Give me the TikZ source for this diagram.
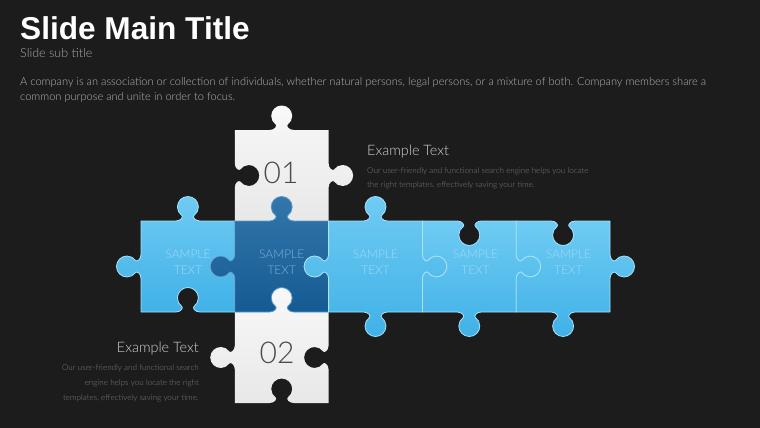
\documentclass[tikz,border=0pt]{standalone}
\usepackage{fontspec}
\setmainfont{Lato}[UprightFont={* Light}]
\newfontfamily\titlefont{Liberation Sans}
\definecolor{bg}{HTML}{1C1C1C}
\definecolor{lbTop}{HTML}{6FCBF3}
\definecolor{lbBot}{HTML}{40B1E7}
\definecolor{lbLine}{HTML}{A9E2FA}
\definecolor{dbTop}{HTML}{3276AA}
\definecolor{dbBot}{HTML}{155B93}
\definecolor{dbLine}{HTML}{5A9CCB}
\definecolor{wTop}{HTML}{F8F8F8}
\definecolor{wBot}{HTML}{E8E8E8}
\definecolor{lbText}{HTML}{A2DAF5}
\definecolor{dbText}{HTML}{7DB0D9}
\definecolor{numText}{HTML}{4A4A4A}
\definecolor{subText}{HTML}{A8A8A8}
\definecolor{paraText}{HTML}{B4B4B4}
\definecolor{headText}{HTML}{D2D2D2}
\definecolor{descText}{HTML}{7A7A7A}

% one tab (knob or hole) on an edge: centre (#1,#2), direction (#3,#4), signed normal (#5,#6)
\newcommand\ptab[6]{%
 -- ({(#1)-12*(#3)},{(#2)-12*(#4)})
 .. controls ({(#1)-7*(#3)},{(#2)-7*(#4)}) and ({(#1)-4.4*(#3)+4.25*(#5)},{(#2)-4.4*(#4)+4.25*(#6)})
 .. ({(#1)-6*(#3)+5.4*(#5)},{(#2)-6*(#4)+5.4*(#6)})
 .. controls ({(#1)-8.8*(#3)+7.4*(#5)},{(#2)-8.8*(#4)+7.4*(#6)}) and ({(#1)-10.5*(#3)+10.6*(#5)},{(#2)-10.5*(#4)+10.6*(#6)})
 .. ({(#1)-10.5*(#3)+14*(#5)},{(#2)-10.5*(#4)+14*(#6)})
 .. controls ({(#1)-10.5*(#3)+19.8*(#5)},{(#2)-10.5*(#4)+19.8*(#6)}) and ({(#1)-5.8*(#3)+24.5*(#5)},{(#2)-5.8*(#4)+24.5*(#6)})
 .. ({(#1)+24.5*(#5)},{(#2)+24.5*(#6)})
 .. controls ({(#1)+5.8*(#3)+24.5*(#5)},{(#2)+5.8*(#4)+24.5*(#6)}) and ({(#1)+10.5*(#3)+19.8*(#5)},{(#2)+10.5*(#4)+19.8*(#6)})
 .. ({(#1)+10.5*(#3)+14*(#5)},{(#2)+10.5*(#4)+14*(#6)})
 .. controls ({(#1)+10.5*(#3)+10.6*(#5)},{(#2)+10.5*(#4)+10.6*(#6)}) and ({(#1)+8.8*(#3)+7.4*(#5)},{(#2)+8.8*(#4)+7.4*(#6)})
 .. ({(#1)+6*(#3)+5.4*(#5)},{(#2)+6*(#4)+5.4*(#6)})
 .. controls ({(#1)+4.4*(#3)+4.25*(#5)},{(#2)+4.4*(#4)+4.25*(#6)}) and ({(#1)+7*(#3)},{(#2)+7*(#4)})
 .. ({(#1)+12*(#3)},{(#2)+12*(#4)})
}
% piece: x, y, w, h, top, right, bottom, left  (+1 knob, -1 hole)
\newcommand\piece[8]{({#1},{#2})
 \ptab{#1+#3/2}{#2}{1}{0}{0}{-(#5)} -- ({#1+#3},{#2})
 \ptab{#1+#3}{#2+#4/2}{0}{1}{#6}{0} -- ({#1+#3},{#2+#4})
 \ptab{#1+#3/2}{#2+#4}{-1}{0}{0}{#7} -- ({#1},{#2+#4})
 \ptab{#1}{#2+#4/2}{0}{-1}{-(#8)}{0} -- cycle}

\tikzset{
 lightpiece/.style={top color=lbTop, bottom color=lbBot, draw=lbLine, line width=0.8pt, line join=round},
 darkpiece/.style={top color=dbTop, bottom color=dbBot, draw=dbLine, line width=0.8pt, line join=round},
 whitepiece/.style={top color=wTop, bottom color=wBot, draw=none},
 samplelight/.style={align=center, text=lbText, font=\fontsize{12}{16}\selectfont, inner sep=0},
 sampledark/.style={align=center, text=dbText, font=\fontsize{12}{16}\selectfont, inner sep=0},
 numstyle/.style={anchor=base, inner sep=0, text=numText, font=\fontsize{30}{30}\selectfont},
 headstyle/.style={inner sep=0, text=headText, font=\fontsize{14.4}{14.4}\selectfont},
 descstyle/.style={inner sep=0, text=descText, font=\fontsize{8.1}{8.1}\selectfont},
 parastyle/.style={anchor=base west, inner sep=0, text=paraText, font=\fontsize{11.05}{11.05}\selectfont}
}

\begin{document}
\begin{tikzpicture}[x=1pt,y=-1pt]
\useasboundingbox (0,0) rectangle (760,428);
\fill[bg] (0,0) rectangle (760,428);

% titles
\node[anchor=base west, inner sep=0, text=white, font=\titlefont\bfseries\fontsize{31.6}{31.6}\selectfont] (title) at (20,40) {Slide Main Title};
\node[anchor=base west, inner sep=0, text=subText, font=\fontsize{12.5}{12.5}\selectfont] (sub) at (20,58) {Slide sub title};
\node[parastyle] (p1) at (20,85) {A company is an association or collection of individuals, whether natural persons, legal persons, or a mixture of both. Company members share a};
\node[parastyle] (p2) at (20,100) {common purpose and unite in order to focus.};

% white pieces
\path[whitepiece] \piece{234.8}{130}{93.8}{91}{1}{1}{-1}{-1};
\path[whitepiece] \piece{234.8}{312}{93.8}{91}{1}{-1}{-1}{1};

% blue row
\path[lightpiece] \piece{141}{221}{93.8}{91}{1}{-1}{-1}{1};
\path[darkpiece]  \piece{234.8}{221}{93.8}{91}{1}{-1}{-1}{1};
\path[lightpiece] \piece{328.6}{221}{93.8}{91}{1}{1}{1}{1};
\path[lightpiece] \piece{422.4}{221}{93.8}{91}{-1}{1}{1}{-1};
\path[lightpiece] \piece{516.2}{221}{93.8}{91}{-1}{1}{1}{-1};

% piece labels
\node[samplelight] (s1) at (188,262) {SAMPLE\\TEXT};
\node[sampledark]  (s2) at (281.7,262) {SAMPLE\\TEXT};
\node[samplelight] (s3) at (375.5,262) {SAMPLE\\TEXT};
\node[samplelight] (s4) at (475.5,262) {SAMPLE\\TEXT};
\node[samplelight] (s5) at (568.5,262) {SAMPLE\\TEXT};

\node[numstyle] (n1) at (281,183) {01};
\node[numstyle] (n2) at (277,363.5) {02};

% top text block
\node[headstyle, anchor=base west] (h1) at (367,155) {Example Text};
\node[descstyle, anchor=base west] (d11) at (367,173) {Our user-friendly and functional search engine helps you locate};
\node[descstyle, anchor=base west] (d12) at (367,187) {the right templates, effectively saving your time.};

% bottom text block
\node[headstyle, anchor=base east] (h2) at (199,352) {Example Text};
\node[descstyle, anchor=base east] (d21) at (199,370) {Our user-friendly and functional search};
\node[descstyle, anchor=base east] (d22) at (199,385) {engine helps you locate the right};
\node[descstyle, anchor=base east] (d23) at (199,400) {templates, effectively saving your time.};
\end{tikzpicture}
\end{document}
